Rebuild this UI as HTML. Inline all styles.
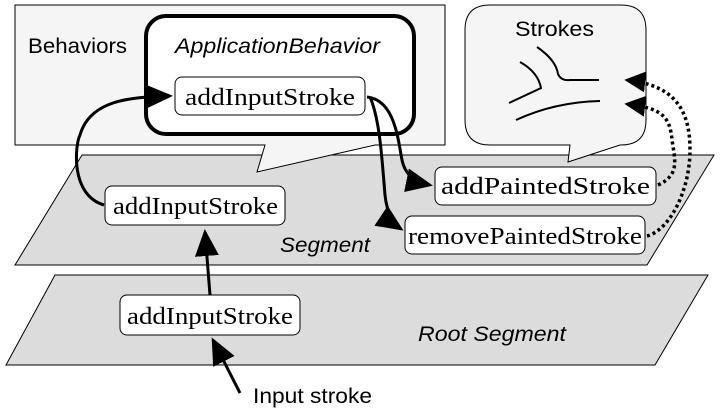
<!DOCTYPE html>
<html><head><style>html,body{margin:0;padding:0;background:#fff;width:720px;height:415px;overflow:hidden}</style></head>
<body>
<svg width="720" height="415" viewBox="0 0 720 415" xmlns="http://www.w3.org/2000/svg" font-family="Liberation Sans, sans-serif">
<defs>
<marker id="ah" markerWidth="9" markerHeight="8" refX="8" refY="4" orient="auto" markerUnits="strokeWidth"><path d="M0,0 L9,4 L0,8 z" fill="#000"/></marker>
<marker id="ah2" markerWidth="6" markerHeight="6" refX="5.5" refY="3" orient="auto" markerUnits="strokeWidth"><path d="M0,0 L6,3 L0,6 z" fill="#000"/></marker>
</defs>
<polygon points="55,275 708,275 655,365 6,365" fill="#dcdcdc" stroke="#000" stroke-width="1"/>
<polygon points="82,155 714,155 647,265 15,265" fill="#dcdcdc" stroke="#000" stroke-width="1"/>
<path d="M15,5 H445 V145 H375 L257,172 L265,145 H15 Z" fill="#f5f5f5" stroke="#000" stroke-width="1"/>
<text x="28" y="53" font-size="21" textLength="99" lengthAdjust="spacingAndGlyphs">Behaviors</text>
<rect x="146" y="16" width="268" height="118" rx="20" fill="#fff" stroke="#000" stroke-width="4"/>
<text x="175" y="53" font-size="21" font-style="italic" textLength="205" lengthAdjust="spacingAndGlyphs">ApplicationBehavior</text>
<rect x="175" y="77" width="190" height="38" rx="7" fill="#fff" stroke="#000"/>
<text x="185" y="105" font-size="24" font-family="Liberation Serif, serif" textLength="170" lengthAdjust="spacingAndGlyphs">addInputStroke</text>
<path d="M490,5 H621 Q646,5 646,30 V120 Q646,145 621,145 H620 L568,162 L570,145 H490 Q465,145 465,120 V30 Q465,5 490,5 Z" fill="#f5f5f5" stroke="#000"/>
<text x="515" y="36" font-size="21" textLength="79" lengthAdjust="spacingAndGlyphs">Strokes</text>
<path d="M537,47 Q556,60 558,74 Q561,81 570,80 H599" fill="none" stroke="#000" stroke-width="2"/>
<path d="M520,62 Q538,72 541,88 L509,103" fill="none" stroke="#000" stroke-width="2"/>
<path d="M516,120 Q555,102 600,101" fill="none" stroke="#000" stroke-width="2"/>
<rect x="105" y="186" width="180" height="39" rx="7" fill="#fff" stroke="#000"/>
<text x="113" y="214" font-size="24" font-family="Liberation Serif, serif" textLength="165" lengthAdjust="spacingAndGlyphs">addInputStroke</text>
<text x="280" y="252" font-size="21" font-style="italic" textLength="90" lengthAdjust="spacingAndGlyphs">Segment</text>
<rect x="435" y="167" width="221" height="38" rx="7" fill="#fff" stroke="#000"/>
<text x="441" y="194" font-size="24" font-family="Liberation Serif, serif" textLength="209" lengthAdjust="spacingAndGlyphs">addPaintedStroke</text>
<rect x="405" y="216" width="240" height="38" rx="7" fill="#fff" stroke="#000"/>
<text x="408" y="244" font-size="24" font-family="Liberation Serif, serif" textLength="234" lengthAdjust="spacingAndGlyphs">removePaintedStroke</text>
<rect x="120" y="295" width="180" height="40" rx="7" fill="#fff" stroke="#000"/>
<text x="127" y="324" font-size="24" font-family="Liberation Serif, serif" textLength="166" lengthAdjust="spacingAndGlyphs">addInputStroke</text>
<text x="418" y="341" font-size="21" font-style="italic" textLength="148" lengthAdjust="spacingAndGlyphs">Root Segment</text>
<text x="253" y="403" font-size="21" textLength="119" lengthAdjust="spacingAndGlyphs">Input stroke</text>
<path d="M240,393 L213,340" fill="none" stroke="#000" stroke-width="3" marker-end="url(#ah)"/>
<path d="M210,295 L205,232" fill="none" stroke="#000" stroke-width="3" marker-end="url(#ah)"/>
<path d="M104,205 C70,195 75,145 80,135 C90,100 130,97 170,96" fill="none" stroke="#000" stroke-width="3" marker-end="url(#ah)"/>
<path d="M367,97 C395,100 398,140 402,160 C405,175 415,182 430,185" fill="none" stroke="#000" stroke-width="3" marker-end="url(#ah)"/>
<path d="M370,97 C380,120 382,160 385,195 C387,215 395,225 401,229" fill="none" stroke="#000" stroke-width="3" marker-end="url(#ah)"/>
<path d="M658,185 C680,175 675,160 672,140 C670,115 660,108 626,104" fill="none" stroke="#000" stroke-width="3.5" stroke-dasharray="3,3" marker-end="url(#ah2)"/>
<path d="M647,236 C670,230 690,190 690,150 C690,110 675,85 626,80" fill="none" stroke="#000" stroke-width="3.5" stroke-dasharray="3,3" marker-end="url(#ah2)"/>
</svg>
</body></html>
